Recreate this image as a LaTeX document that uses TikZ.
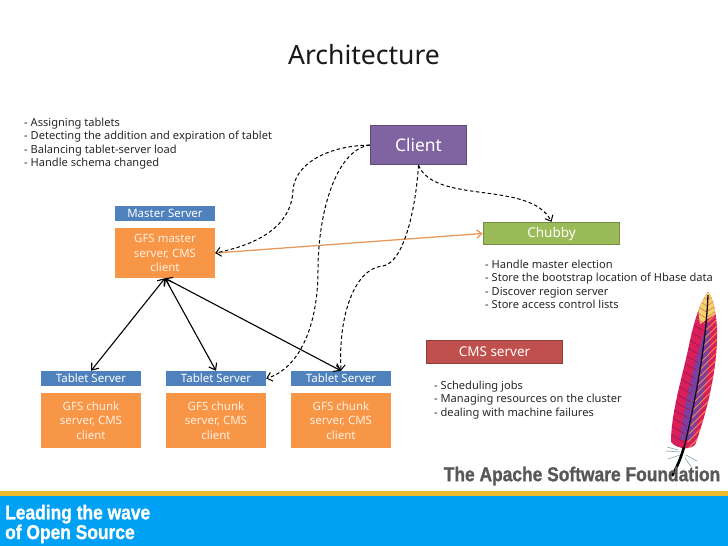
\documentclass[tikz,border=0pt]{standalone}
\usepackage{fontspec}
\setmainfont{Noto Sans}
\newfontfamily\logofont{Liberation Sans}[FakeBold=1.2]
\usetikzlibrary{arrows.meta}
\definecolor{boxblue}{HTML}{4F81BD}
\definecolor{boxorange}{HTML}{F79646}
\definecolor{boxpurple}{HTML}{8064A2}
\definecolor{boxgreen}{HTML}{9BBB59}
\definecolor{boxred}{HTML}{C0504D}
\definecolor{linkorange}{HTML}{E8995A}
\definecolor{waveblue}{HTML}{00A0F4}
\definecolor{waveyellow}{HTML}{EDB92E}
\definecolor{logogray}{HTML}{58585A}
\definecolor{plumered}{HTML}{D81F5C}
\definecolor{plumepurple}{HTML}{7B3FA0}
\definecolor{plumeyellow}{HTML}{F3D36B}
\definecolor{plumeorange}{HTML}{F58A4B}
\tikzset{
    box/.style={inner sep=0pt,minimum width=100pt,text=white,align=center,font=\fontsize{11.5}{14.4}\selectfont},
    head/.style={box,fill=boxblue,minimum height=15pt},
    body/.style={box,fill=boxorange,text=white!85!boxorange,minimum height=50pt},
    body tall/.style={body,minimum height=55pt},
    solid box/.style={inner sep=0pt,text=white,line width=1.4pt},
    notes/.style={inner sep=0pt,anchor=north west,align=left,text=black!85,font=\fontsize{11.1}{13.3}\selectfont},
    link/.style={line width=1.1pt,<->,>={Straight Barb[length=6pt,width=9pt]}},
    call/.style={line width=1pt,dash pattern=on 3.5pt off 2.5pt,-{Straight Barb[length=5pt,width=9pt]}}
}
\begin{document}
\begin{tikzpicture}[x=1pt,y=-1pt]
    \useasboundingbox (0,0) rectangle (728,546);
    % footer
    \fill[waveblue] (0,496) rectangle (728,546);
    \fill[waveyellow] (0,491) rectangle (728,496);
    \node[inner sep=0pt,anchor=west,align=left,text=white,font=\logofont\fontsize{20}{18}\bfseries\selectfont] (wave) at (5,524) {\scalebox{0.87}[1]{Leading the wave}\\\scalebox{0.87}[1]{of Open Source}};
    % feather
    \begin{scope}
    \clip (708,292) .. controls (714,298) and (718,322) .. (717,340) .. controls (716,375) and (706,415) .. (695,445) .. controls (688,451) and (676,448) .. (671,442) .. controls (671,415) and (680,385) .. (688,350) .. controls (692,330) and (698,305) .. (708,292);
    \fill[plumered] (660,285) rectangle (728,460);
    \fill[plumepurple] (708,320) .. controls (714,350) and (704,400) .. (692,440) -- (680,440) .. controls (684,400) and (698,350) .. (708,320);
    \foreach \y in {322,330,...,450}{
        \draw[plumered!75!black,line width=0.7pt] ({708-(\y-295)*0.165},\y) -- ++(-24,-14);
        \draw[plumeorange,line width=0.9pt] ({708-(\y-295)*0.165+4},\y) -- ++(18,-18);
    }
    \fill[plumeyellow] (700,324) -- (718,312) -- (718,285) -- (695,285) -- cycle;
    \foreach \y in {300,306,...,324}{
        \draw[plumered!60!plumeyellow,line width=0.5pt] ({708-(\y-295)*0.1},\y) -- ++(-12,-8) ({708-(\y-295)*0.1},\y) -- ++(12,-8);
    }
    \end{scope}
    \draw[black!85!plumepurple,line width=1.3pt] (708,295) .. controls (706,340) and (698,390) .. (684,448);
    \draw[gray!70!cyan,line width=0.6pt] (680,452) -- (666,451) (680,455) -- (668,459) (686,455) -- (697,461) (685,458) -- (692,468) (678,450) -- (667,447);
    \draw[black,line width=2.6pt] (684,447) .. controls (681,458) and (677,467) .. (672,476);
    \node[inner sep=0pt,text=logogray,font=\logofont\fontsize{20}{20}\bfseries\selectfont] (apache) at (582,476) {\scalebox{0.87}[1]{The Apache Software Foundation}};
    % title and notes
    \node[inner sep=0pt,font=\fontsize{26.5}{30}\selectfont,text=black!90] (title) at (364,55) {Architecture};
    \node[notes] (masternotes) at (24,118) {- Assigning tablets\\- Detecting the addition and expiration of tablet\\- Balancing tablet-server load\\- Handle schema changed};
    \node[notes] (chubbynotes) at (485,260) {- Handle master election\\- Store the bootstrap location of Hbase data\\- Discover region server\\- Store access control lists};
    \node[notes] (cmsnotes) at (434,381) {- Scheduling jobs\\- Managing resources on the cluster\\- dealing with machine failures};
    % boxes
    \node[solid box,fill=boxpurple,draw=boxpurple!75!black,minimum width=96pt,minimum height=39pt,font=\fontsize{17.4}{20}\selectfont] (client) at (418.5,145) {Client};
    \node[head] (master) at (165,213.5) {Master Server};
    \node[body] (gfsmaster) at (165,253) {GFS master\\server, CMS\\client};
    \node[solid box,fill=boxgreen,draw=boxgreen!75!black,minimum width=136pt,minimum height=22pt,font=\fontsize{13.5}{16}\selectfont] (chubby) at (551.5,233.5) {Chubby};
    \node[solid box,fill=boxred,draw=boxred!75!black,minimum width=136pt,minimum height=23pt,font=\fontsize{13.5}{16}\selectfont] (cms) at (494.5,352) {CMS server};
    \foreach \x/\name in {91/a,216/b,341/c}{
        \node[head] (tablet\name) at (\x,378.5) {Tablet Server};
        \node[body tall] (chunk\name) at (\x,420.5) {GFS chunk\\server, CMS\\client};
    }
    % connectors
    \foreach \name in {a,b,c}
        \draw[link] (gfsmaster.south) -- (tablet\name.north);
    \draw[line width=1.3pt,linkorange,->,>={Straight Barb[length=5pt,width=8pt]}] (gfsmaster.east) -- (chubby.west);
    \draw[call] (client.west) .. controls (325,146) and (295,165) .. (293,190) .. controls (292,222) and (265,243) .. (gfsmaster.east);
    \draw[call] (client.west) .. controls (335,150) and (318,215) .. (318,270) .. controls (318,325) and (300,368) .. (tabletb.east);
    \draw[call] (client.south) .. controls (416,205) and (405,262) .. (383,266) .. controls (355,268) and (338,315) .. (tabletc.north);
    \draw[call] (client.south) .. controls (435,205) and (530,180) .. (chubby.north);
\end{tikzpicture}
\end{document}
